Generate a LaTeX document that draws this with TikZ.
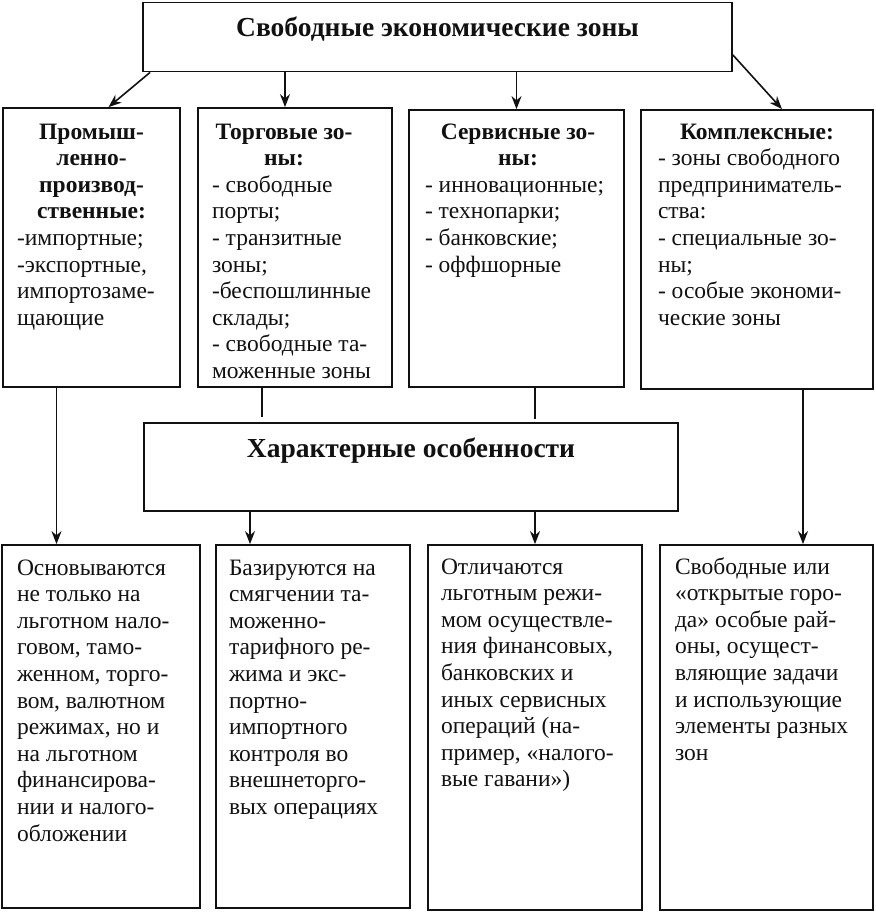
\documentclass[tikz,border=0pt]{standalone}
\usepackage{fontspec}
\setmainfont{Liberation Serif}
\usetikzlibrary{arrows.meta,calc}
\tikzset{
  box/.style={draw=ink, line width=1.8pt, rectangle, inner sep=0pt},
  txt/.style={inner sep=0pt, outer sep=0pt, text=ink},
  link/.style={draw=ink, line width=1.6pt},
  arr/.style={link, -{Stealth[length=13pt,width=10pt]}},
}
\definecolor{ink}{HTML}{111111}
\newcommand{\bodyfont}{\fontsize{23.5}{26.6}\selectfont}
\newcommand{\titlefont}{\fontsize{27.5}{32}\selectfont\bfseries}
\newcommand{\lcol}[1]{{\bodyfont\begin{tabular}[t]{@{}l@{}}#1\end{tabular}}}
\newcommand{\ccol}[1]{{\bodyfont\bfseries\begin{tabular}[t]{@{}c@{}}#1\end{tabular}}}
\begin{document}
\begin{tikzpicture}[x=1pt,y=-1pt]
\useasboundingbox[fill=white] (0,0) rectangle (876,914);
% title
\node[box, minimum width=589pt, minimum height=69pt] (T) at (437.5,37) {};
\node[txt, anchor=base] (Tt) at (437.5,36) {\titlefont Свободные экономические зоны};
% top boxes
\node[box, minimum width=177pt, minimum height=279pt] (b1) at (91.5,247.5) {};
\node[box, minimum width=194pt, minimum height=279pt] (b2) at (295,247.5) {};
\node[box, minimum width=215pt, minimum height=277pt] (b3) at (516.5,248.5) {};
\node[box, minimum width=232pt, minimum height=279pt] (b4) at (757,249.5) {};
% top box texts
\node[txt, anchor=base] (h1) at (91.5,139) {\ccol{Промыш-\\ленно-\\производ-\\ственные:}};
\node[txt, anchor=base west] (i1) at (17,245.4) {\lcol{-импортные;\\-экспортные,\\импортозаме-\\щающие}};
\node[txt, anchor=base] (h2) at (284,139) {\ccol{Торговые зо-\\ны:}};
\node[txt, anchor=base west] (i2) at (212,192.2) {\lcol{- свободные\\порты;\\- транзитные\\зоны;\\-беспошлинные\\склады;\\- свободные та-\\моженные зоны}};
\node[txt, anchor=base] (h3) at (518,139) {\ccol{Сервисные зо-\\ны:}};
\node[txt, anchor=base west] (i3) at (425,192.2) {\lcol{- инновационные;\\- технопарки;\\- банковские;\\- оффшорные}};
\node[txt, anchor=base] (h4) at (757,139) {\ccol{Комплексные:}};
\node[txt, anchor=base west] (i4) at (658,165.6) {\lcol{- зоны свободного\\предприниматель-\\ства:\\- специальные зо-\\ны;\\- особые экономи-\\ческие зоны}};
% middle
\node[box, minimum width=534pt, minimum height=88pt] (M) at (411,467) {};
\node[txt, anchor=base] (Mt) at (411,457) {\titlefont Характерные особенности};
% bottom boxes
\node[box, minimum width=198pt, minimum height=363pt] (c1) at (101,726.5) {};
\node[box, minimum width=194pt, minimum height=363pt] (c2) at (313,726.5) {};
\node[box, minimum width=214pt, minimum height=365pt] (c3) at (535,727.5) {};
\node[box, minimum width=213pt, minimum height=365pt] (c4) at (766.5,727.5) {};
\node[txt, anchor=base west] (t1) at (17,575) {\lcol{Основываются\\не только на\\льготном нало-\\говом, тамо-\\женном, торго-\\вом, валютном\\режимах, но и\\на льготном\\финансирова-\\нии и налого-\\обложении}};
\node[txt, anchor=base west] (t2) at (229,575) {\lcol{Базируются на\\смягчении та-\\моженно-\\тарифного ре-\\жима и экс-\\портно-\\импортного\\контроля во\\внешнеторго-\\вых операциях}};
\node[txt, anchor=base west] (t3) at (441,574) {\lcol{Отличаются\\льготным режи-\\мом осуществле-\\ния финансовых,\\банковских и\\иных сервисных\\операций (на-\\пример, «налого-\\вые гавани»)}};
\node[txt, anchor=base west] (t4) at (675,574) {\lcol{Свободные или\\«открытые горо-\\да» особые рай-\\оны, осущест-\\вляющие задачи\\и использующие\\элементы разных\\зон}};
% connectors from title
\draw[arr] ([xshift=8]T.south west) -- ([xshift=17]b1.north);
\draw[arr] ([xshift=-10]T.south -| b2.north) -- ([xshift=-10]b2.north);
\draw[arr] (T.south -| b3.north) -- (b3.north);
\draw[arr] ([yshift=-18]T.east) -- ([xshift=25]b4.north);
% top boxes to middle / bottom
\draw[arr] ([xshift=-35]b1.south) -- ([xshift=-35]b1.south |- c1.north);
\draw[link] ([xshift=-33]b2.south) -- ([xshift=-33,yshift=5]b2.south |- M.north);
\draw[link] ([xshift=18.5]b3.south) -- ([xshift=18.5,yshift=3]b3.south |- M.north);
\draw[arr] ([xshift=46]b4.south) -- ([xshift=46]b4.south |- c4.north);
% middle to bottom
\draw[arr] ([xshift=-161]M.south) -- ([xshift=-161]M.south |- c2.north);
\draw[arr] ([xshift=124]M.south) -- ([xshift=124]M.south |- c3.north);
\end{tikzpicture}
\end{document}
